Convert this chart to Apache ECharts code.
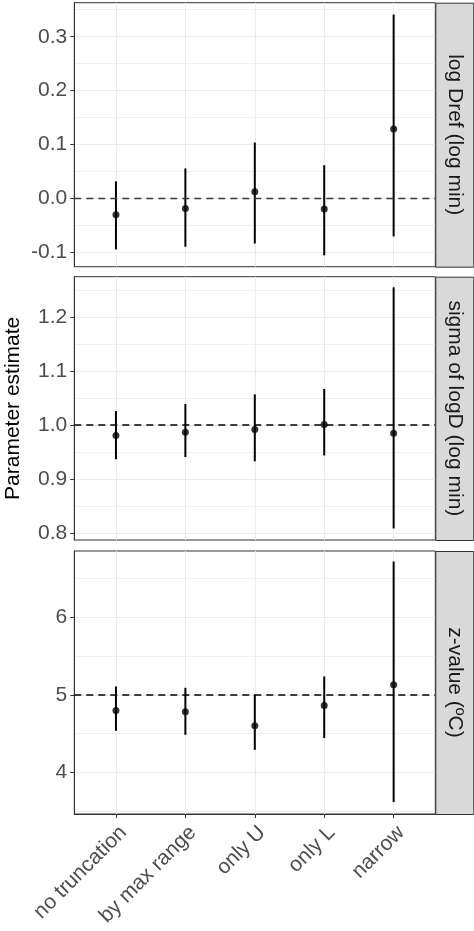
<!DOCTYPE html>
<html><head><meta charset="utf-8">
<script src="https://cdn.jsdelivr.net/npm/echarts@6/dist/echarts.min.js"></script>
<style>html,body{margin:0;padding:0;background:#fff}#c{width:474px;height:931px}</style>
</head><body><div id="c"></div>
<script>
// ---- data ----
const categories = ['no truncation', 'by max range', 'only U', 'only L', 'narrow'];
const panelNames = ['log Dref (log min)', 'sigma of logD (log min)', 'z-value (ºC)'];

const logDref_est = [-0.030, -0.018, 0.013, -0.019, 0.129];
const logDref_lo  = [-0.094, -0.089, -0.083, -0.105, -0.070];
const logDref_hi  = [0.032, 0.056, 0.104, 0.062, 0.341];

const sigma_est = [0.981, 0.987, 0.992, 1.001, 0.985];
const sigma_lo  = [0.937, 0.941, 0.933, 0.944, 0.809];
const sigma_hi  = [1.026, 1.039, 1.057, 1.067, 1.255];

const z_est = [4.797, 4.780, 4.600, 4.862, 5.129];
const z_lo  = [4.535, 4.484, 4.290, 4.441, 3.616];
const z_hi  = [5.107, 5.090, 5.004, 5.236, 6.720];

const refValues = [0, 1, 5];

const logDref_ticks = [-0.1, 0.0, 0.1, 0.2, 0.3];
const sigma_ticks   = [0.8, 0.9, 1.0, 1.1, 1.2];
const z_ticks       = [4, 5, 6];

const logDref_minor = [-0.05, 0.05, 0.15, 0.25, 0.35];
const sigma_minor   = [0.85, 0.95, 1.05, 1.15, 1.25];
const z_minor       = [3.5, 4.5, 5.5, 6.5];

const logDref_range = [-0.126, 0.363];
const sigma_range   = [0.7876, 1.2746];
const z_range       = [3.462, 6.855];

// ---- build ----
const panels = [
  {est: logDref_est, lo: logDref_lo, hi: logDref_hi, ticks: logDref_ticks, minor: logDref_minor, range: logDref_range, dec: 1},
  {est: sigma_est, lo: sigma_lo, hi: sigma_hi, ticks: sigma_ticks, minor: sigma_minor, range: sigma_range, dec: 1},
  {est: z_est, lo: z_lo, hi: z_hi, ticks: z_ticks, minor: z_minor, range: z_range, dec: 0}
];
const layout = [
  {top: 2.7, height: 264},
  {top: 276.7, height: 263.3},
  {top: 551, height: 263}
];
const L = 74.3, W = 361, STRIP_W = 38;
const xPos = categories.map((c, i) => i + 1);
const gridColor = '#EBEBEB';
const tickColor = '#333';
const labelColor = '#4D4D4D';
const FONT = 'Liberation Sans, Arial, sans-serif';

const grid = [], xAxis = [], yAxis = [], series = [], graphics = [];
panels.forEach((p, k) => {
  grid.push({left: L, top: layout[k].top, width: W, height: layout[k].height,
    containLabel: false, outerBoundsMode: 'none',
    show: true, backgroundColor: '#fff', borderColor: '#333', borderWidth: 1});
  const isBottom = k === panels.length - 1;
  xAxis.push({
    type: 'value', gridIndex: k, min: 0.4, max: 5.6,
    axisLine: {show: isBottom, onZero: false, lineStyle: {color: tickColor, width: 1}},
    axisTick: {show: isBottom, customValues: xPos, length: 4, lineStyle: {color: tickColor, width: 1}},
    axisLabel: {show: isBottom, customValues: xPos, rotate: 45, margin: 8, verticalAlign: 'top',
      formatter: v => categories[Math.round(v) - 1],
      color: labelColor, fontSize: 21, fontFamily: FONT},
    splitLine: {show: true, lineStyle: {color: gridColor, width: 1}}
  });
  yAxis.push({
    type: 'value', gridIndex: k, min: p.range[0], max: p.range[1],
    axisLine: {show: true, onZero: false, lineStyle: {color: tickColor, width: 1}},
    axisTick: {show: true, customValues: p.ticks, length: 4, lineStyle: {color: tickColor, width: 1}},
    axisLabel: {show: true, customValues: p.ticks, margin: 7,
      formatter: v => Number(v).toFixed(p.dec),
      color: labelColor, fontSize: 21, fontFamily: FONT},
    splitLine: {show: true, lineStyle: {color: gridColor, width: 1}},
    name: k === 1 ? 'Parameter estimate' : '',
    nameLocation: 'middle', nameRotate: 90, nameGap: 51,
    nameTextStyle: {color: '#000', fontSize: 21, fontFamily: FONT}
  });
  yAxis.push({
    type: 'value', gridIndex: k, min: p.range[0], max: p.range[1], position: 'left',
    axisLine: {show: false}, axisLabel: {show: false},
    axisTick: {show: false, customValues: p.minor},
    splitLine: {show: true, lineStyle: {color: '#F0F0F0', width: 1}},
    z: 0
  });
  const yIdx = k * 2;
  // reference dashed line
  series.push({
    type: 'line', xAxisIndex: k, yAxisIndex: yIdx, data: [], z: 2,
    markLine: {silent: true, symbol: 'none', label: {show: false},
      lineStyle: {type: [7, 5], color: k === 0 ? '#3a3a3a' : '#000', width: k === 0 ? 1.3 : 1.6},
      emphasis: {disabled: true},
      data: [{yAxis: refValues[k]}]}
  });
  // error bars
  series.push({
    type: 'custom', xAxisIndex: k, yAxisIndex: yIdx, z: 4,
    data: xPos.map((x, i) => [x, p.lo[i], p.hi[i]]),
    encode: {x: 0, y: [1, 2]},
    renderItem: (params, api) => {
      const a = api.coord([api.value(0), api.value(1)]);
      const b = api.coord([api.value(0), api.value(2)]);
      return {type: 'line', shape: {x1: a[0], y1: a[1], x2: b[0], y2: b[1]},
        style: {stroke: '#000', lineWidth: 2}};
    }
  });
  // point estimates
  series.push({
    type: 'scatter', xAxisIndex: k, yAxisIndex: yIdx, z: 5,
    symbol: 'circle', symbolSize: 7, itemStyle: {color: '#000'},
    data: xPos.map((x, i) => [x, p.est[i]])
  });
  // strip
  const t = layout[k].top, h = layout[k].height;
  graphics.push({type: 'rect', left: L + W, top: t,
    shape: {width: STRIP_W, height: h},
    style: {fill: '#D9D9D9', stroke: '#333', lineWidth: 1}, z: 10});
  graphics.push({type: 'text', x: L + W + STRIP_W / 2 + 0.5, y: t + h / 2, rotation: -Math.PI / 2,
    style: {text: panelNames[k], fill: '#1A1A1A', font: '21px ' + FONT,
      textAlign: 'center', textVerticalAlign: 'middle'}, z: 11});
});

const chart = echarts.init(document.getElementById('c'), null, {renderer: 'canvas'});
chart.setOption({
  animation: false,
  grid, xAxis, yAxis, series,
  graphic: {elements: graphics}
});
</script>
</body></html>
